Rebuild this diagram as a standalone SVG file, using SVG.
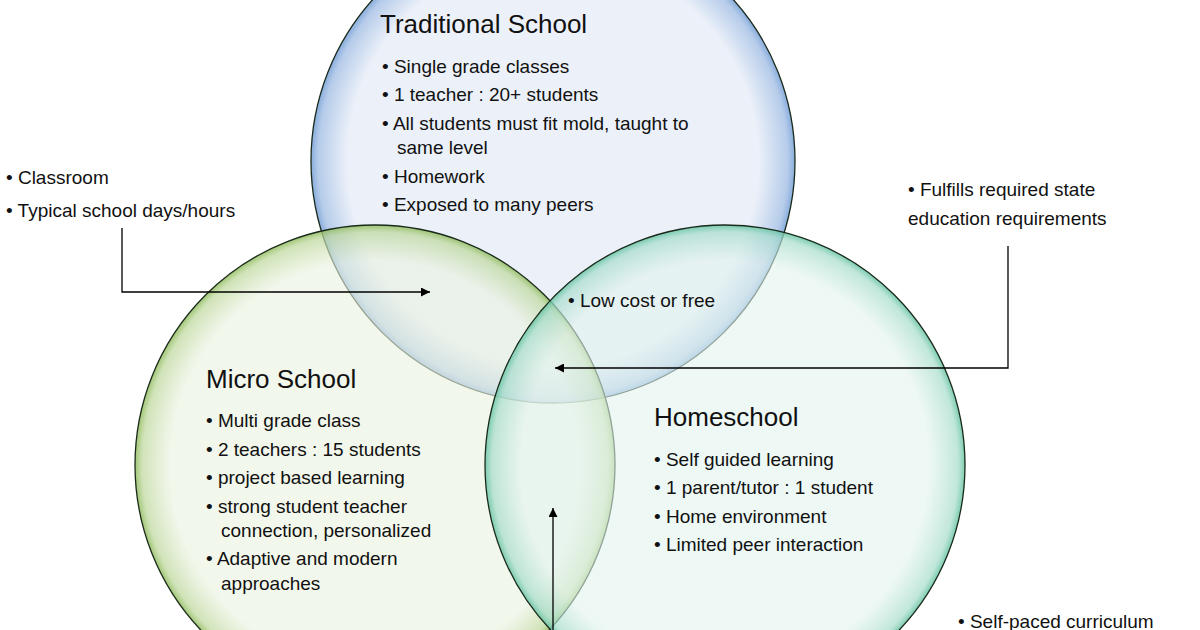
<svg xmlns="http://www.w3.org/2000/svg" width="1200" height="630" viewBox="0 0 1200 630">
<defs>
<radialGradient id="gb"><stop offset="0.85" stop-color="#e8eef8" stop-opacity="0.85"/><stop offset="0.97" stop-color="#a9c3e6" stop-opacity="0.85"/><stop offset="1" stop-color="#7aa3d8" stop-opacity="0.9"/></radialGradient>
<radialGradient id="gg"><stop offset="0.85" stop-color="#eaf2e0" stop-opacity="0.6"/><stop offset="0.97" stop-color="#bcd79a" stop-opacity="0.7"/><stop offset="1" stop-color="#8fbb5c" stop-opacity="0.85"/></radialGradient>
<radialGradient id="gt"><stop offset="0.85" stop-color="#e2f3ee" stop-opacity="0.6"/><stop offset="0.97" stop-color="#a6dccb" stop-opacity="0.7"/><stop offset="1" stop-color="#64c3a3" stop-opacity="0.85"/></radialGradient>
<marker id="ah" viewBox="0 0 10 10" refX="10" refY="5" markerWidth="9" markerHeight="9" markerUnits="userSpaceOnUse" orient="auto"><path d="M0,0L10,5L0,10z" fill="#000"/></marker>
</defs>
<style>
text{font-family:"Liberation Sans",Arial,sans-serif;fill:#111}
.t{font-size:26px}
.b{font-size:19px}
circle{stroke:#1a2a1a;stroke-width:1.3}
.c{fill:none;stroke:#000;stroke-width:1.3}
</style>
<rect width="1200" height="630" fill="#fff"/>
<g id="traditional"><circle cx="553" cy="161" r="242" fill="url(#gb)"/></g>
<g id="micro"><circle cx="375" cy="465" r="240" fill="url(#gg)"/></g>
<g id="homeschool"><circle cx="725" cy="465" r="240" fill="url(#gt)"/></g>
<g id="traditional-text">
<text class="t" x="380" y="33">Traditional School</text>
<text class="b" x="382" y="73">• Single grade classes</text>
<text class="b" x="382" y="101">• 1 teacher : 20+ students</text>
<text class="b" x="382" y="130">• All students must fit mold, taught to</text>
<text class="b" x="397" y="154">same level</text>
<text class="b" x="382" y="183">• Homework</text>
<text class="b" x="382" y="211">• Exposed to many peers</text>
</g>
<g id="micro-text">
<text class="t" x="206" y="388">Micro School</text>
<text class="b" x="206" y="427">• Multi grade class</text>
<text class="b" x="206" y="456">• 2 teachers : 15 students</text>
<text class="b" x="206" y="484">• project based learning</text>
<text class="b" x="206" y="513">• strong student teacher</text>
<text class="b" x="221" y="537">connection, personalized</text>
<text class="b" x="206" y="565">• Adaptive and modern</text>
<text class="b" x="221" y="590">approaches</text>
</g>
<g id="home-text">
<text class="t" x="654" y="426">Homeschool</text>
<text class="b" x="654" y="466">• Self guided learning</text>
<text class="b" x="654" y="494">• 1 parent/tutor : 1 student</text>
<text class="b" x="654" y="523">• Home environment</text>
<text class="b" x="654" y="551">• Limited peer interaction</text>
</g>
<g id="labels">
<text class="b" x="6" y="184">• Classroom</text>
<text class="b" x="6" y="217">• Typical school days/hours</text>
<text class="b" x="568" y="307">• Low cost or free</text>
<text class="b" x="908" y="196">• Fulfills required state</text>
<text class="b" x="908" y="225">education requirements</text>
<text class="b" x="958" y="628">• Self-paced curriculum</text>
</g>
<g id="connectors">
<path class="c" d="M122,228V292H430" marker-end="url(#ah)"/>
<path class="c" d="M1008,246V368H555" marker-end="url(#ah)"/>
<path class="c" d="M553,630V508" marker-end="url(#ah)"/>
</g>
</svg>
